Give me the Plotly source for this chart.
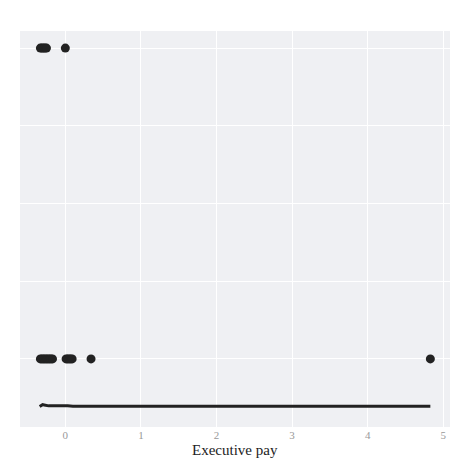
import plotly.graph_objects as go

# Observed points (outcome 0/1 vs executive pay)
top_x = [-0.33, -0.31, -0.29, -0.27, -0.25, 0.0]
top_y = [1, 1, 1, 1, 1, 1]
bot_x = [-0.33, -0.31, -0.29, -0.27, -0.25, -0.23, -0.21, -0.19, -0.17, 0.01, 0.03, 0.05, 0.07, 0.09, 0.34, 4.83]
bot_y = [0] * len(bot_x)

# Fitted line
fit_x = [-0.34, -0.32, -0.30, -0.28, -0.25, -0.22, -0.15, -0.05, 0.0, 0.03, 0.1, 1.0, 2.0, 3.0, 4.0, 4.83]
fit_y = [-0.153, -0.149, -0.147, -0.148, -0.150, -0.151, -0.151, -0.150, -0.149, -0.151, -0.152, -0.152, -0.152, -0.152, -0.152, -0.152]

x_ticks = [0, 1, 2, 3, 4, 5]
y_grid = [0, 0.25, 0.5, 0.75, 1]
x_title = "Executive pay"

dark = "#222222"

fig = go.Figure()
fig.add_trace(go.Scatter(x=top_x + bot_x, y=top_y + bot_y, mode="markers",
                         marker=dict(color=dark, size=9), showlegend=False))
fig.add_trace(go.Scatter(x=fit_x, y=fit_y, mode="lines",
                         line=dict(color=dark, width=3), showlegend=False))

fig.add_annotation(text=x_title, xref="paper", yref="paper", x=0.5, y=0, yshift=-13,
                   xanchor="center", yanchor="top", showarrow=False,
                   font=dict(size=15, color="#222222", family="Liberation Serif"))

fig.update_layout(
    width=447, height=454,
    margin=dict(l=12, r=5, t=23, b=35),
    paper_bgcolor="white",
    plot_bgcolor="#EFF0F3",
    font=dict(family="Liberation Serif", color="#222222"),
    xaxis=dict(range=[-0.6, 5.09], tickvals=x_ticks, showgrid=True, gridcolor="white",
               gridwidth=1, zeroline=False, ticks="", automargin=False,
               tickfont=dict(size=11, color="#999999")),
    yaxis=dict(range=[-0.219, 1.055], tickvals=y_grid, showticklabels=False, showgrid=True,
               gridcolor="white", gridwidth=1, zeroline=False, ticks="", automargin=False),
)

fig.write_html("out.html")
